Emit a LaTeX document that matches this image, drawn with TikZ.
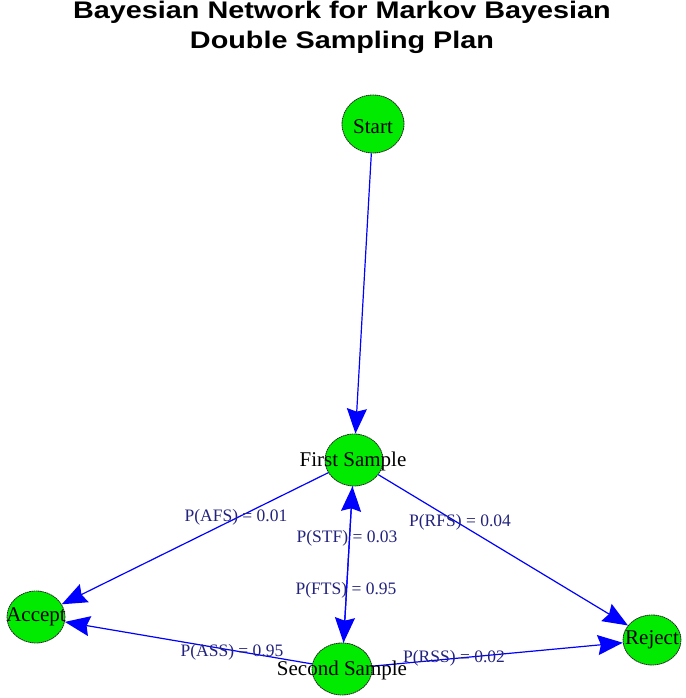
\documentclass[tikz,border=0pt]{standalone}
\usepackage{fontspec}
\setmainfont{Liberation Serif}
\newfontfamily\titlefont{Liberation Sans}
\usetikzlibrary{arrows.meta,shapes.geometric}
\definecolor{nodegreen}{RGB}{0,235,0}
\definecolor{edgeblue}{RGB}{0,0,255}
\definecolor{labblue}{RGB}{35,35,125}
\begin{document}
\begin{tikzpicture}[x=1pt,y=1pt,
  state/.style={ellipse, fill=nodegreen, draw=black!85, line width=0.8pt,
    dash pattern=on 1.6pt off 0.6pt, minimum width=58pt, minimum height=52pt, inner sep=0pt},
  nodetext/.style={font=\fontsize{21}{21}\selectfont, text=black, inner sep=0pt},
  edge/.style={draw=edgeblue, line width=1.2pt, -{Stealth[length=25pt,width=20pt,inset=3pt]}},
  elabel/.style={font=\fontsize{17.5}{17.5}\selectfont, text=labblue, inner sep=0pt},
  titlestyle/.style={font=\titlefont\bfseries\fontsize{24}{24}\selectfont, anchor=base, inner sep=0pt}]
\useasboundingbox (0,0) rectangle (685,698);
% title
\node[titlestyle] (t1) at (342,679) {\scalebox{1.2}[1]{Bayesian Network for Markov Bayesian}};
\node[titlestyle] (t2) at (342,649) {\scalebox{1.2}[1]{Double Sampling Plan}};
% nodes
\node[state, minimum width=62pt, minimum height=58pt] (start) at (373,574) {};
\node[state] (first) at (354,238) {};
\node[state] (accept) at (36,81) {};
\node[state, minimum width=60pt] (second) at (342,29) {};
\node[state, minimum height=50pt] (reject) at (652,58) {};
% edges
\draw[edge] (start) -- (first);
\draw[edge] (first) -- (accept);
\draw[edge] (first) -- (reject);
\draw[edge] (first) -- (second);
\draw[edge] (second) -- (first);
\draw[edge] (second) -- (accept);
\draw[edge] (second) -- (reject);
% node labels
\node[nodetext] (startlab) at (373,571) {Start};
\node[nodetext] (firstlab) at (353,237) {First Sample};
\node[nodetext] (acceptlab) at (36,81) {Accept};
\node[nodetext] (secondlab) at (342,28) {Second Sample};
\node[nodetext] (rejectlab) at (652,58) {Reject};
% edge labels
\node[elabel] (lafs) at (236,181) {P(AFS) = 0.01};
\node[elabel] (lrfs) at (460,176) {P(RFS) = 0.04};
\node[elabel] (lstf) at (347,160) {P(STF) = 0.03};
\node[elabel] (lfts) at (346,108) {P(FTS) = 0.95};
\node[elabel] (lass) at (232,46) {P(ASS) = 0.95};
\node[elabel] (lrss) at (454,40) {P(RSS) = 0.02};
\end{tikzpicture}
\end{document}
